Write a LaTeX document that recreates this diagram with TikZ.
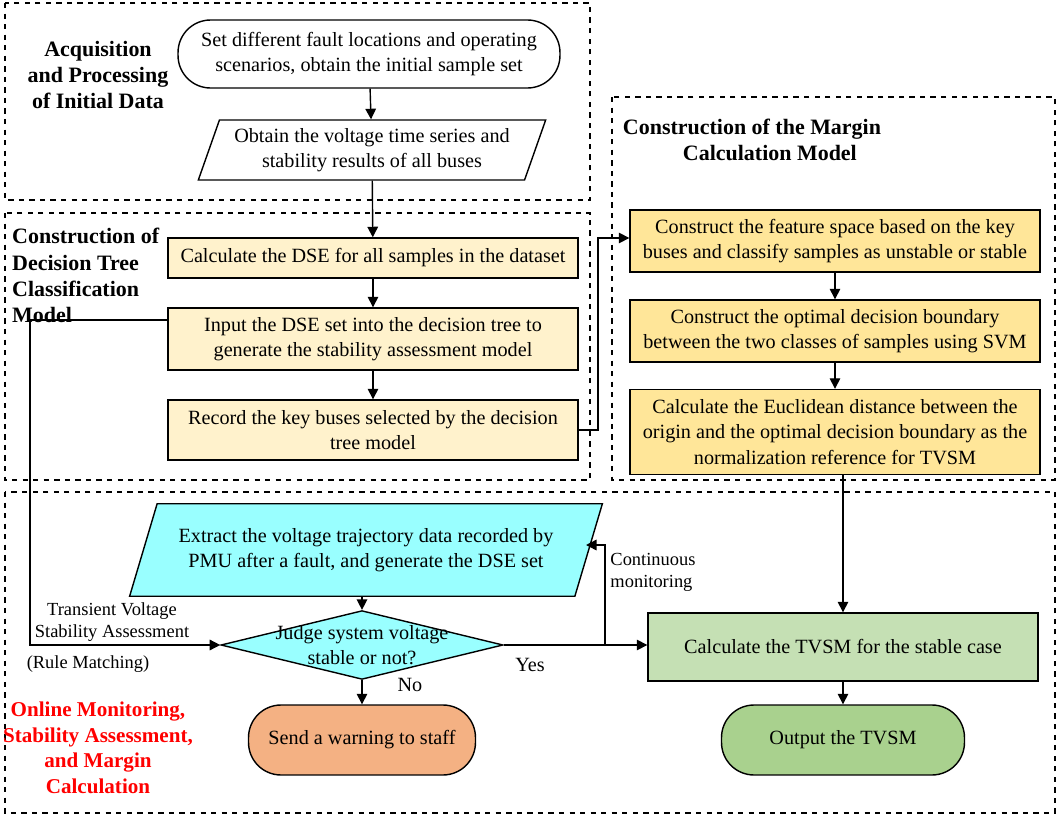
\documentclass[tikz,border=0pt]{standalone}
\usepackage{fontspec}
\setmainfont{Liberation Serif}
\usetikzlibrary{shapes.geometric,arrows.meta}
\definecolor{ly}{HTML}{FFF2CC}
\definecolor{my}{HTML}{FFE699}
\definecolor{cy}{HTML}{99FFFF}
\definecolor{lg}{HTML}{C5E0B4}
\definecolor{dg}{HTML}{A9D18E}
\definecolor{or}{HTML}{F4B183}
\begin{document}
\begin{tikzpicture}[x=0.02cm,y=-0.02cm,
  every node/.style={font=\fontsize{11.5}{14.5}\selectfont,align=center},
  grp/.style={draw,dashed,thick},
  box/.style={draw,thick,minimum width=8.2cm,inner sep=2pt},
  term/.style={draw,thick,rounded corners=0.65cm},
  para/.style={draw,thick,trapezium,trapezium stretches=true,trapezium left angle=70,trapezium right angle=110,inner sep=3pt},
  hd/.style={font=\fontsize{12.5}{15}\selectfont\bfseries},
  lab/.style={font=\fontsize{10.5}{12.5}\selectfont},
  arr/.style={thick,-{Triangle[length=6pt,width=6pt]}}]
\useasboundingbox (0,0) rectangle (1059,818);
\draw[grp] (5,3) rectangle (590,200);
\draw[grp] (5,213) rectangle (590,480);
\draw[grp] (612,97) rectangle (1055,480);
\draw[grp] (5,492) rectangle (1055,813);
\node[hd] at (98,75) {Acquisition\\and Processing\\of Initial Data};
\node[hd,align=left,anchor=north west] at (6,222) {Construction of\\Decision Tree\\Classification\\Model};
\node[hd,align=left] at (752,140) {Construction of the Margin\\\hspace*{1.2cm}Calculation Model};
\node[hd,text=red,font=\fontsize{12}{14.5}\selectfont\bfseries] at (98,748) {Online Monitoring,\\Stability Assessment,\\and Margin\\Calculation};

\node[term,minimum width=7.64cm,minimum height=1.36cm] (t1) at (369,54) {Set different fault locations and operating\\scenarios, obtain the initial sample set};
\node[para,minimum height=1.2cm,minimum width=6.96cm] (p1) at (372,150) {Obtain the voltage time series and\\stability results of all buses};
\node[box,fill=ly,minimum height=0.8cm] (b1) at (373,258) {Calculate the DSE for all samples in the dataset};
\node[box,fill=ly,minimum height=1.24cm] (b2) at (373,339) {Input the DSE set into the decision tree to\\generate the stability assessment model};
\node[box,fill=ly,minimum height=1.2cm] (b3) at (373,430) {Record the key buses selected by the decision\\tree model};
\node[box,fill=my,minimum height=1.24cm] (r1) at (835,241) {Construct the feature space based on the key\\buses and classify samples as unstable or stable};
\node[box,fill=my,minimum height=1.24cm] (r2) at (835,331) {Construct the optimal decision boundary\\between the two classes of samples using SVM};
\node[box,fill=my,minimum height=1.7cm] (r3) at (835,432) {Calculate the Euclidean distance between the\\origin and the optimal decision boundary as the\\normalization reference for TVSM};
\node[para,fill=cy,minimum height=1.85cm,minimum width=9.46cm,trapezium left angle=65,trapezium right angle=115] (p2) at (366,550) {Extract the voltage trajectory data recorded by\\PMU after a fault, and generate the DSE set};
\node[draw,thick,diamond,fill=cy,aspect=4.1,inner sep=-3pt] (d) at (362,645) {Judge system voltage\\stable or not?};
\node[draw,thick,fill=lg,minimum width=7.8cm,minimum height=1.36cm] (g) at (843,647) {Calculate the TVSM for the stable case};
\node[term,fill=or,minimum width=4.54cm,minimum height=1.4cm] (o) at (362,740) {Send a warning to staff};
\node[term,fill=dg,minimum width=4.86cm,minimum height=1.4cm] (e) at (843,740) {Output the TVSM};

\draw[arr] (t1) -- (p1);
\draw[arr] (p1) -- (b1);
\draw[arr] (b1) -- (b2);
\draw[arr] (b2) -- (b3);
\draw[arr] (b3.east) -- (598,430) -- (598,238) -- (r1.west|-0,238);
\draw[arr] (r1) -- (r2);
\draw[arr] (r2) -- (r3);
\draw[arr] (r3.south-|g.north) -- (g.north);
\draw[arr] (g) -- (e);
\draw[arr] (p2.south-|d.north) -- (d.north);
\draw[arr] (d.south) -- (o.north);
\draw[arr] (d.east) -- (g.west|-d.east);
\draw[arr] (605,645) -- (605,545) -- (586,545);
\draw[arr] (b2.west|-0,320) -- (30,320) -- (30,645) -- (d.west);
\node[lab] at (112,622) {Transient Voltage\\Stability Assessment};
\node[lab] at (88,664) {(Rule Matching)};
\node at (530,665) {Yes};
\node at (410,685) {No};
\node[lab,align=left] at (653,572) {Continuous\\monitoring};
\end{tikzpicture}
\end{document}
